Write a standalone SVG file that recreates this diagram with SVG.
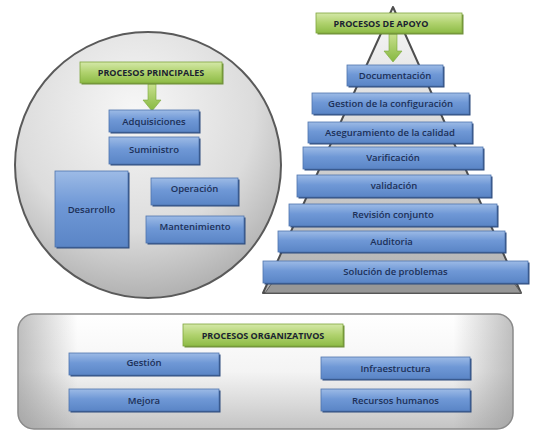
<svg xmlns="http://www.w3.org/2000/svg" width="550" height="438" viewBox="0 0 550 438">
<defs>
  <linearGradient id="gBlue" x1="0" y1="0" x2="0" y2="1">
    <stop offset="0" stop-color="#9dbbe6"/>
    <stop offset="0.45" stop-color="#6f98d6"/>
    <stop offset="1" stop-color="#5a85c6"/>
  </linearGradient>
  <linearGradient id="gGreen" x1="0" y1="0" x2="0" y2="1">
    <stop offset="0" stop-color="#d4e8a8"/>
    <stop offset="0.5" stop-color="#b0d26e"/>
    <stop offset="1" stop-color="#8dbb46"/>
  </linearGradient>
  <linearGradient id="gArrow" x1="0" y1="0" x2="0" y2="1">
    <stop offset="0" stop-color="#c8e08e"/>
    <stop offset="1" stop-color="#86b840"/>
  </linearGradient>
  <radialGradient id="gCircle" cx="0.45" cy="0.3" r="0.75">
    <stop offset="0" stop-color="#f7f7f7"/>
    <stop offset="0.6" stop-color="#dcdcdc"/>
    <stop offset="1" stop-color="#a9a9a9"/>
  </radialGradient>
  <linearGradient id="gOrgV" x1="0" y1="0" x2="0" y2="1">
    <stop offset="0" stop-color="#ffffff"/>
    <stop offset="0.5" stop-color="#f4f4f4"/>
    <stop offset="1" stop-color="#c4c4c4"/>
  </linearGradient>
  <linearGradient id="gOrgH" x1="0" y1="0" x2="1" y2="0">
    <stop offset="0" stop-color="#8c8c8c" stop-opacity="0.55"/>
    <stop offset="0.12" stop-color="#8c8c8c" stop-opacity="0"/>
    <stop offset="0.88" stop-color="#8c8c8c" stop-opacity="0"/>
    <stop offset="1" stop-color="#8c8c8c" stop-opacity="0.55"/>
  </linearGradient>
  <linearGradient id="gPyr" x1="0" y1="0" x2="0" y2="1">
    <stop offset="0" stop-color="#f8f8f8"/>
    <stop offset="0.3" stop-color="#e2e2e2"/>
    <stop offset="1" stop-color="#b0b0b0"/>
  </linearGradient>
  <style>
    .blue { fill: url(#gBlue); stroke: #4f74ad; stroke-width: 0.8; }
    .bshadow { fill: #2c4a7c; }
    .green { fill: url(#gGreen); stroke: #7fa63e; stroke-width: 0.8; }
    .gshadow { fill: #6f8f3a; }
    .arrow { fill: url(#gArrow); stroke: #7aa83a; stroke-width: 0.6; }
    .lbl { font-family: "Open Sans", "Liberation Sans", sans-serif; font-size: 9.5px; font-weight: 600; fill: #1c3058; text-anchor: middle; }
    .hdr { font-family: "Open Sans", "Liberation Sans", sans-serif; font-size: 9px; font-weight: 700; fill: #1a2330; text-anchor: middle; }
  </style>
</defs>
<rect width="550" height="438" fill="#ffffff"/>

<!-- containers -->
<g id="principales-container">
  <circle cx="148" cy="165" r="133" fill="url(#gCircle)" stroke="#5a5a5a" stroke-width="2"/>
</g>
<g id="apoyo-pyramid">
  <polygon points="393,7 263,293 521,293" fill="url(#gPyr)" stroke="#4e4e4e" stroke-width="2" stroke-linejoin="round"/>
  <polygon points="272,283 514,283 521,293 265,293" fill="#979797" stroke="#5e5e5e" stroke-width="1"/>
</g>
<g id="organizativos-container">
  <rect x="18" y="314" width="495" height="115" rx="16" fill="url(#gOrgV)"/>
  <rect x="18" y="314" width="495" height="115" rx="16" fill="url(#gOrgH)" stroke="#8a8a8a" stroke-width="1.5"/>
</g>

<!-- connectors -->
<g id="connectors">
  <path class="arrow" d="M148,84 H156 V100 H161 L152,111 L143,100 H148 Z"/>
  <path class="arrow" d="M389,34 H397 V51 H402 L393,62 L384,51 H389 Z"/>
</g>

<!-- headers -->
<g id="hdr-principales">
  <rect class="gshadow" x="81.5" y="63.5" width="142" height="21"/>
  <rect class="green" x="80" y="62" width="142" height="21"/>
  <text class="hdr" x="151" y="76">PROCESOS  PRINCIPALES</text>
</g>
<g id="hdr-apoyo">
  <rect class="gshadow" x="317.5" y="14.5" width="146" height="20"/>
  <rect class="green" x="316" y="13" width="146" height="20"/>
  <text class="hdr" x="381" y="26.5">PROCESOS  DE APOYO</text>
</g>
<g id="hdr-organizativos">
  <rect class="gshadow" x="184.5" y="325.5" width="160" height="22"/>
  <rect class="green" x="183" y="324" width="160" height="22"/>
  <text class="hdr" x="263" y="338.5">PROCESOS  ORGANIZATIVOS</text>
</g>

<!-- principales nodes -->
<g id="n-adquisiciones">
  <rect class="bshadow" x="110.5" y="111.5" width="90" height="22"/>
  <rect class="blue" x="109" y="110" width="90" height="22"/>
  <text class="lbl" x="154" y="124.5">Adquisiciones</text>
</g>
<g id="n-suministro">
  <rect class="bshadow" x="110.5" y="138.5" width="90" height="27"/>
  <rect class="blue" x="109" y="137" width="90" height="27"/>
  <text class="lbl" x="154" y="153">Suministro</text>
</g>
<g id="n-desarrollo">
  <rect class="bshadow" x="56.5" y="172.5" width="73" height="76"/>
  <rect class="blue" x="55" y="171" width="73" height="76"/>
  <text class="lbl" x="91.5" y="212.5">Desarrollo</text>
</g>
<g id="n-operacion">
  <rect class="bshadow" x="152.5" y="179.5" width="87" height="27"/>
  <rect class="blue" x="151" y="178" width="87" height="27"/>
  <text class="lbl" x="194.5" y="192">Operación</text>
</g>
<g id="n-mantenimiento">
  <rect class="bshadow" x="147.5" y="217.5" width="98" height="27"/>
  <rect class="blue" x="146" y="216" width="98" height="27"/>
  <text class="lbl" x="195" y="230">Mantenimiento</text>
</g>

<!-- apoyo nodes -->
<g id="n-documentacion">
  <rect class="bshadow" x="348.5" y="66.5" width="96" height="21"/>
  <rect class="blue" x="347" y="65" width="96" height="21"/>
  <text class="lbl" x="395" y="78.5">Documentación</text>
</g>
<g id="n-gestion-config">
  <rect class="bshadow" x="313.5" y="94.5" width="157" height="21"/>
  <rect class="blue" x="312" y="93" width="157" height="21"/>
  <text class="lbl" x="390.5" y="106.5">Gestion de la configuración</text>
</g>
<g id="n-aseguramiento">
  <rect class="bshadow" x="309.5" y="123.5" width="164" height="21"/>
  <rect class="blue" x="308" y="122" width="164" height="21"/>
  <text class="lbl" x="390" y="135.5">Aseguramiento de la calidad</text>
</g>
<g id="n-varificacion">
  <rect class="bshadow" x="304.5" y="148.5" width="180" height="22"/>
  <rect class="blue" x="303" y="147" width="180" height="22"/>
  <text class="lbl" x="393" y="161">Varificación</text>
</g>
<g id="n-validacion">
  <rect class="bshadow" x="298.5" y="176.5" width="194" height="22"/>
  <rect class="blue" x="297" y="175" width="194" height="22"/>
  <text class="lbl" x="394" y="189">validación</text>
</g>
<g id="n-revision">
  <rect class="bshadow" x="290.5" y="205.5" width="208" height="22"/>
  <rect class="blue" x="289" y="204" width="208" height="22"/>
  <text class="lbl" x="393" y="218">Revisión conjunto</text>
</g>
<g id="n-auditoria">
  <rect class="bshadow" x="279.5" y="232.5" width="227" height="21"/>
  <rect class="blue" x="278" y="231" width="227" height="21"/>
  <text class="lbl" x="391.5" y="245">Auditoria</text>
</g>
<g id="n-solucion">
  <rect class="bshadow" x="264.5" y="262.5" width="265" height="22"/>
  <rect class="blue" x="263" y="261" width="265" height="22"/>
  <text class="lbl" x="395.5" y="275">Solución de problemas</text>
</g>

<!-- organizativos nodes -->
<g id="n-gestion">
  <rect class="bshadow" x="70.5" y="354.5" width="150" height="22"/>
  <rect class="blue" x="69" y="353" width="150" height="22"/>
  <text class="lbl" x="144" y="366">Gestión</text>
</g>
<g id="n-mejora">
  <rect class="bshadow" x="70.5" y="390.5" width="150" height="22"/>
  <rect class="blue" x="69" y="389" width="150" height="22"/>
  <text class="lbl" x="144" y="403.5">Mejora</text>
</g>
<g id="n-infraestructura">
  <rect class="bshadow" x="322.5" y="358.5" width="149" height="22"/>
  <rect class="blue" x="321" y="357" width="149" height="22"/>
  <text class="lbl" x="395.5" y="371.5">Infraestructura</text>
</g>
<g id="n-recursos">
  <rect class="bshadow" x="322.5" y="390.5" width="149" height="22"/>
  <rect class="blue" x="321" y="389" width="149" height="22"/>
  <text class="lbl" x="395.5" y="403.5">Recursos humanos</text>
</g>
</svg>
